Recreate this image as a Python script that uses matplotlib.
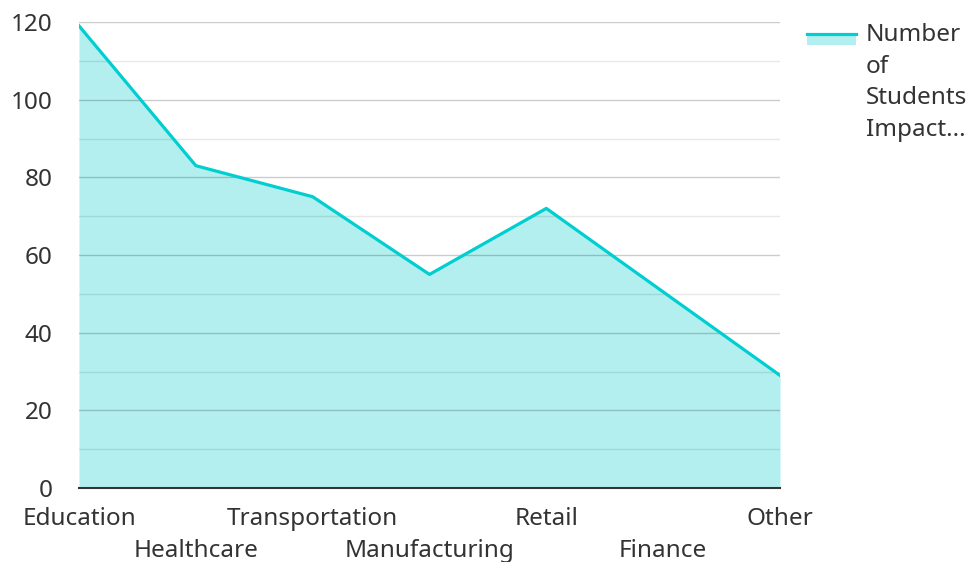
import matplotlib
matplotlib.use("Agg")
import matplotlib.pyplot as plt
from matplotlib.lines import Line2D
from matplotlib.patches import Rectangle

categories = ["Education", "Healthcare", "Transportation", "Manufacturing", "Retail", "Finance", "Other"]
values = [119, 83, 75, 55, 72, 50.5, 29]
series_name = "Number\nof\nStudents\nImpact..."
yticks = [0, 20, 40, 60, 80, 100, 120]

plt.rcParams['font.family'] = ['Noto Sans', 'DejaVu Sans']

W, H = 971, 562
FS = 17.5
fig = plt.figure(figsize=(W/100, H/100), dpi=100)
ax = fig.add_axes([79/W, 1-488/H, (780-79)/W, (488-22)/H])

line_c = "#00CED1"
fill_c = "#B2EFEE"

x = list(range(len(categories)))
ax.fill_between(x, values, 0, color=fill_c, linewidth=0, zorder=1)
ax.plot(x, values, color=line_c, linewidth=2.3, zorder=3, solid_joinstyle='round')

ax.set_xlim(0, len(categories)-1)
ax.set_ylim(0, 120)
ax.set_yticks(yticks)
ax.set_yticklabels([str(v) for v in yticks], fontsize=FS, color="#333333")
ax.set_yticks(list(range(10, 120, 20)), minor=True)
ax.grid(axis='y', which='major', color='#000000', alpha=0.2, linewidth=1, zorder=2)
ax.grid(axis='y', which='minor', color='#000000', alpha=0.09, linewidth=1, zorder=2)
ax.tick_params(axis='y', which='both', length=0, pad=19)

ax.set_xticks(x)
ax.set_xticklabels([])
ax.tick_params(axis='x', length=0)
for i, c in enumerate(categories):
    off = -31 / 100 * 72 if i % 2 == 0 else -63 / 100 * 72
    ax.annotate(c, xy=(x[i], 0), xycoords=('data', 'axes fraction'),
                xytext=(0, off), textcoords='offset points',
                ha='center', va='center', fontsize=FS, color="#333333",
                annotation_clip=False)

for s in ['top', 'right', 'left']:
    ax.spines[s].set_visible(False)
ax.spines['bottom'].set_color('#333333')
ax.spines['bottom'].set_linewidth(1.5)
ax.spines['bottom'].set_zorder(4)

# legend
fig.add_artist(Rectangle((807/W, 1-45/H), 49/W, 11/H, transform=fig.transFigure, color=fill_c, lw=0))
fig.add_artist(Line2D([807/W, 856/W], [1-34/H, 1-34/H], transform=fig.transFigure, color=line_c, lw=2.3))
fig.text(866/W, 1-23/H, series_name, fontsize=FS, color="#333333", va='top', ha='left', linespacing=1.43)

fig.savefig("out.png", dpi=100)
